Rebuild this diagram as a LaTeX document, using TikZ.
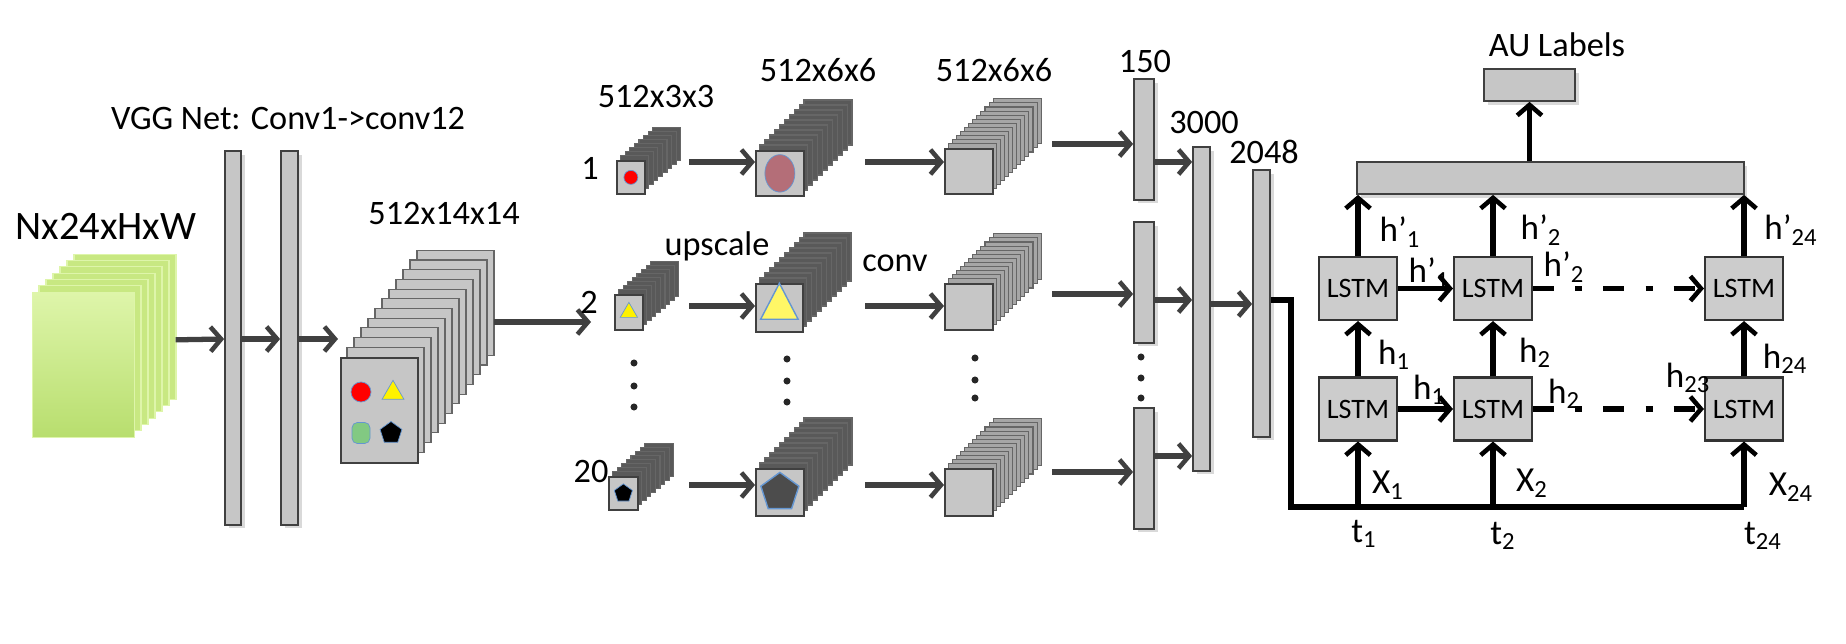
\documentclass[tikz,border=0pt]{standalone}
\usepackage{fontspec}
\setmainfont{Carlito}
\usetikzlibrary{arrows.meta,shapes.geometric,calc,shadows}
\definecolor{gfront1}{RGB}{222,245,170}
\definecolor{gfront2}{RGB}{184,222,110}
\definecolor{gback}{RGB}{200,232,130}
\definecolor{outl}{RGB}{100,150,210}
\tikzset{
 bar/.style={draw=black!75,fill=gray!45,line width=1pt,drop shadow={opacity=0.3,shadow xshift=2pt,shadow yshift=-2pt},inner sep=0},
 frontbox/.style={draw=black!75,fill=gray!45,line width=1pt,inner sep=0},
 arr/.style={line width=3pt,draw=black!75,-{Straight Barb[length=6pt,width=14pt,line width=2.6pt]}},
 barr/.style={line width=3pt,draw=black,-{Straight Barb[length=6pt,width=14pt,line width=2.6pt]}},
 lstm/.style={draw=black!80,fill=gray!40,line width=1.2pt,minimum width=1.56cm,minimum height=1.26cm,inner sep=0,font=\fontsize{16}{16}\selectfont},
 lab/.style={font=\fontsize{19.5}{19.5}\selectfont,inner sep=0},
 hl/.style={font=\fontsize{20}{20}\selectfont,inner sep=0},
 dotn/.style={circle,fill=black!85,minimum size=4pt,inner sep=0},
}
% name, left, top, w, h, n, dx, dy, backfill
\newcommand\stk[9]{%
 \foreach \i in {#6,...,1}{\draw[fill=#9,draw=black!60,line width=0.6pt] ({#2+\i*#7},{#3+\i*#8}) rectangle ++(#4,#5);}
 \node[frontbox,minimum width=#4*0.02cm,minimum height=#5*0.02cm,anchor=north west] (#1) at (#2,#3) {};
}
\begin{document}
\begin{tikzpicture}[x=0.02cm,y=-0.02cm]
\useasboundingbox (0,0) rectangle (1846,644);
% green input stack
\foreach \i in {6,...,1}{\draw[fill=gback,draw=gfront1,line width=0.6pt] ({32+\i*7},{292-\i*6.3}) rectangle ++(102,145);}
\node[anchor=north west,minimum width=2.04cm,minimum height=2.9cm,top color=gfront1,bottom color=gfront2,draw=gfront1,inner sep=0] (green) at (32,292) {};
\node[lab,font=\fontsize{23}{23}\selectfont] (nlab) at (106,226) {Nx24xHxW};
% VGG bars
\node[bar,minimum width=0.32cm,minimum height=7.48cm] (b1) at (233,338) {};
\node[bar,minimum width=0.34cm,minimum height=7.48cm] (b2) at (289.5,338) {};
\node[lab] (vgg) at (288,119) {VGG Net: Conv1->conv12};
% 512x14x14
\stk{big}{340}{357}{77}{105}{11}{7}{-9.7}{gray!45}
\node[lab] (biglab) at (444,214) {512x14x14};
\node[circle,fill=red,draw=outl,minimum width=0.34cm,minimum height=0.4cm,inner sep=0] (s1) at (361,392) {};
\node[isosceles triangle,shape border rotate=90,isosceles triangle apex angle=60,fill=yellow,draw=outl,minimum height=0.38cm,inner sep=0] (s2) at (393,393) {};
\node[rounded corners=3pt,fill=green!40!gray!70,draw=outl,minimum width=0.36cm,minimum height=0.42cm,inner sep=0] (s3) at (361,433) {};
\node[regular polygon,regular polygon sides=5,fill=black,draw=outl,minimum size=0.46cm,inner sep=0] (s4) at (391,433) {};
\draw[arr] ($(green.east)+(41,-25)$) -- (b1.west |- 0,339);
\draw[arr] (b1.east |- 0,339) -- (b2.west |- 0,339);
\draw[arr] (b2.east |- 0,339) -- (338,339);
\coordinate (two) at (591,322);
\draw[arr] (494,322) -- (two);
% row labels
\node[lab] at (590,168) {1};
\node[lab] at (589,302) {2};
\node[lab] at (591,472) {20};
% small cubes
\stk{a1}{616}{160}{28}{33}{8}{4.6}{-4.1}{black!65}
\stk{a2}{614}{294}{28}{35}{8}{4.6}{-4.1}{black!65}
\stk{a3}{608}{476}{29}{33}{8}{4.6}{-4.1}{black!65}
\node[lab] at (656,97) {512x3x3};
\node[circle,fill=red,draw=outl,minimum size=0.28cm,inner sep=0] at (a1) {};
\node[isosceles triangle,shape border rotate=90,isosceles triangle apex angle=60,fill=yellow,draw=outl,minimum height=0.3cm,inner sep=0] at (a2) {};
\node[regular polygon,regular polygon sides=5,fill=black,draw=outl,minimum size=0.38cm,inner sep=0] at (a3) {};
% mid cubes
\stk{m1}{755}{150}{48}{45}{10}{4.9}{-5}{black!65}
\stk{m2}{755}{283}{47}{48}{10}{4.9}{-5}{black!65}
\stk{m3}{755}{468}{48}{47}{10}{4.9}{-5}{black!65}
\node[lab] at (818,70) {512x6x6};
\node[lab] at (717,246) {upscale};
\node[lab] at (895,263) {conv};
\node[ellipse,fill={rgb,255:red,180;green,110;blue,120},draw=outl,minimum width=0.6cm,minimum height=0.75cm,inner sep=0] at (m1) {};
\node[isosceles triangle,shape border rotate=90,isosceles triangle apex angle=55,fill=yellow!60,draw=outl,line width=0.8pt,minimum height=0.72cm,inner sep=0] at (m2) {};
\node[regular polygon,regular polygon sides=5,fill=black!70,draw=outl,line width=0.8pt,minimum size=0.8cm,inner sep=0] at (m3) {};
% third cubes
\stk{c1}{944}{148}{48}{45}{12}{4.1}{-4.1}{gray!70}
\stk{c2}{944}{283}{48}{46}{12}{4.1}{-4.1}{gray!70}
\stk{c3}{944}{468}{48}{47}{12}{4.1}{-4.1}{gray!70}
\node[lab] at (994,70) {512x6x6};
% arrows rows
\draw[arr] (689,162) -- (m1.west |- 0,162);
\draw[arr] (689,306) -- (m2.west |- 0,306);
\draw[arr] (689,485) -- (m3.west |- 0,485);
\draw[arr] (865,162) -- (c1.west |- 0,162);
\draw[arr] (865,306) -- (c2.west |- 0,306);
\draw[arr] (865,485) -- (c3.west |- 0,485);
% dots
\foreach \x/\ya/\yb/\yc in {634/363/386/407,787/359/381/402,975/358/380/398,1141/357/378/398}{
 \node[dotn] at (\x,\ya) {}; \node[dotn] at (\x,\yb) {}; \node[dotn] at (\x,\yc) {};}
% 150 bars
\node[bar,minimum width=0.4cm,minimum height=2.42cm] (f1) at (1144,139.5) {};
\node[bar,minimum width=0.4cm,minimum height=2.42cm] (f2) at (1144,282.5) {};
\node[bar,minimum width=0.4cm,minimum height=2.42cm] (f3) at (1144,468.5) {};
\node[lab] at (1145,62) {150};
\draw[arr] (1052,144) -- (f1.west |- 0,144);
\draw[arr] (1052,294) -- (f2.west |- 0,294);
\draw[arr] (1052,472) -- (f3.west |- 0,472);
\node[bar,minimum width=0.34cm,minimum height=6.48cm] (g) at (1201.5,309) {};
\node[lab] at (1204,123) {3000};
\draw[arr] (f1.east |- 0,162) -- (g.west |- 0,162);
\draw[arr] (f2.east |- 0,300) -- (g.west |- 0,300);
\draw[arr] (f3.east |- 0,456) -- (g.west |- 0,456);
\node[bar,minimum width=0.34cm,minimum height=5.34cm] (k) at (1261.5,303.5) {};
\node[lab] at (1264,152) {2048};
\draw[arr] (g.east |- 0,304) -- (k.west |- 0,304);
% LSTMs
\node[lstm] (u1) at (1358,288.5) {LSTM};
\node[lstm] (u2) at (1493,288.5) {LSTM};
\node[lstm] (u3) at (1744,288.5) {LSTM};
\node[lstm] (l1) at (1358,409) {LSTM};
\node[lstm] (l2) at (1493,409) {LSTM};
\node[lstm] (l3) at (1744,409) {LSTM};
\node[bar,minimum width=7.74cm,minimum height=0.64cm] (wide) at (1550.5,178) {};
\node[bar,minimum width=1.82cm,minimum height=0.64cm] (au) at (1529.5,85) {};
\node[lab] at (1557,45) {AU Labels};
\draw[barr] (wide.north -| au) -- (au.south);
\draw[line width=3pt] (k.east |- 0,300) -- (1291,300) -- (1291,507) coordinate (cl) -- (1744,507) coordinate (cr);
\foreach \n in {l1,l2,l3}{\draw[barr] (\n |- cl) -- (\n.south);}
\draw[barr] (l1.north) -- (u1.south);
\draw[barr] (l2.north) -- (u2.south);
\draw[barr] (l3.north) -- (u3.south);
\draw[barr] (u1.north) -- (u1 |- wide.south);
\draw[barr] (u2.north) -- (u2 |- wide.south);
\draw[barr] (u3.north) -- (u3 |- wide.south);
\draw[barr] (u1.east) -- (u2.west);
\draw[barr] (l1.east) -- (l2.west);
\draw[barr,dash pattern=on 12pt off 12pt on 4pt off 12pt] (u2.east) -- (u3.west);
\draw[barr,dash pattern=on 12pt off 12pt on 4pt off 12pt] (l2.east) -- (l3.west);
% labels
\node[hl] at (1388,485) {X\textsubscript{1}};
\node[hl] at (1532,483) {X\textsubscript{2}};
\node[hl] at (1791,487) {X\textsubscript{24}};
\node[hl] at (1364,534) {t\textsubscript{1}};
\node[hl] at (1503,536) {t\textsubscript{2}};
\node[hl] at (1763,536) {t\textsubscript{24}};
\node[hl] at (1394,355) {h\textsubscript{1}};
\node[hl] at (1535,353) {h\textsubscript{2}};
\node[hl] at (1785,359) {h\textsubscript{24}};
\node[hl] at (1688,378) {h\textsubscript{23}};
\node[hl] at (1429,390) {h\textsubscript{1}};
\node[hl] at (1564,394) {h\textsubscript{2}};
\node[hl] at (1429,273) {h’\textsubscript{1}};
\node[hl] at (1564,267) {h’\textsubscript{2}};
\node[hl] at (1400,232) {h’\textsubscript{1}};
\node[hl] at (1541,230) {h’\textsubscript{2}};
\node[hl] at (1791,230) {h’\textsubscript{24}};
\end{tikzpicture}
\end{document}
